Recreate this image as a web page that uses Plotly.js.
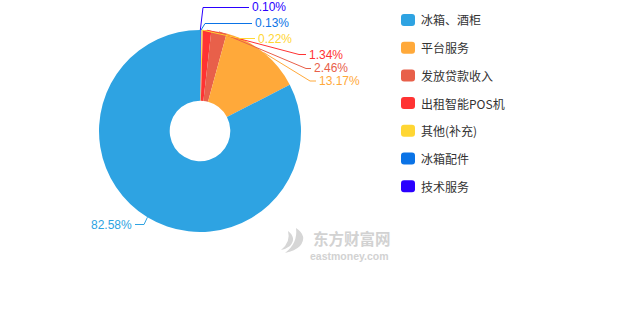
<!DOCTYPE html>
<html>
<head>
<meta charset="utf-8">
<script src="https://cdn.plot.ly/plotly-3.0.1.min.js"></script>
<style>html,body{margin:0;padding:0;background:#fff;}#chart{width:630px;height:330px;}</style>
</head>
<body>
<div id="chart"></div>
<script>
// ---- data ----
const categories = ['冰箱、酒柜', '平台服务', '发放贷款收入', '出租智能POS机', '其他(补充)', '冰箱配件', '技术服务'];
const shares = [82.58, 13.17, 2.46, 1.34, 0.22, 0.13, 0.10];
const sliceColors = ['#2ea3e2', '#ffa93a', '#e8604a', '#ff3333', '#ffd633', '#0a73e6', '#2a00ff'];

// ---- layout constants (pixels) ----
const W = 630, H = 330;
const CX = 200, CY = 131, R = 101;
// label placement per slice: [text x, text y, bend x, side]
const labelPlacement = [
  [133, 224.5, 144, -1],
  [318, 81, 310, 1],
  [313, 68.5, 306, 1],
  [308, 54.5, 299, 1],
  [257, 38.5, 240, 1],
  [254, 23.5, 205, 1],
  [251, 7.5, 203, 1]
];
const legendX = 401, legendTextX = 420, legendTop = 20, legendStep = 27.7;

const px = x => x / W;
const py = y => 1 - y / H;

const shapes = [];
const annotations = [];

// leader lines + labels, start point from each slice's mid angle
// slices run clockwise from 12 o'clock in reverse legend order
const total = shares.reduce((a, b) => a + b, 0);
let cum = 0;
shares.forEach((v, i) => {
  const mid = (cum + v / 2) / total * 2 * Math.PI; // counterclockwise from top
  cum += v;
  const x0 = CX - R * Math.sin(mid);
  const y0 = CY - R * Math.cos(mid);
  const [tx, ty, bx, side] = labelPlacement[i];
  const ex = tx - side * 2;
  shapes.push({
    type: 'path', xref: 'paper', yref: 'paper', layer: 'above',
    path: `M${px(x0)},${py(y0)} L${px(bx)},${py(ty)} L${px(ex)},${py(ty)}`,
    line: {color: sliceColors[i], width: 1}
  });
  annotations.push({
    xref: 'paper', yref: 'paper', x: px(tx), y: py(ty),
    xanchor: side > 0 ? 'left' : 'right', yanchor: 'middle',
    text: v.toFixed(2) + '%', showarrow: false, borderpad: 0,
    font: {family: 'Liberation Sans, Arial, sans-serif', size: 12, color: sliceColors[i]}
  });
});

// custom legend
function roundRect(x, y, w, h, r) {
  return `M${px(x + r)},${py(y)} L${px(x + w - r)},${py(y)} Q${px(x + w)},${py(y)} ${px(x + w)},${py(y + r)} ` +
         `L${px(x + w)},${py(y + h - r)} Q${px(x + w)},${py(y + h)} ${px(x + w - r)},${py(y + h)} ` +
         `L${px(x + r)},${py(y + h)} Q${px(x)},${py(y + h)} ${px(x)},${py(y + h - r)} ` +
         `L${px(x)},${py(y + r)} Q${px(x)},${py(y)} ${px(x + r)},${py(y)} Z`;
}
categories.forEach((c, i) => {
  const yc = legendTop + i * legendStep;
  shapes.push({
    type: 'path', xref: 'paper', yref: 'paper',
    path: roundRect(legendX, yc - 6, 14, 12, 3),
    fillcolor: sliceColors[i], line: {width: 0}
  });
  annotations.push({
    xref: 'paper', yref: 'paper', x: px(legendTextX), y: py(yc),
    xanchor: 'left', yanchor: 'middle', text: c, showarrow: false, borderpad: 0,
    font: {family: '"Noto Sans CJK SC", sans-serif', size: 12, color: '#333'}
  });
});

// watermark
shapes.push({
  type: 'path', xref: 'paper', yref: 'paper', layer: 'above',
  path: `M${px(296)},${py(228)} Q${px(308)},${py(236)} ${px(300)},${py(246)} Q${px(295)},${py(251)} ${px(285)},${py(253)} ` +
        `Q${px(298)},${py(243)} ${px(296)},${py(228)} Z`,
  fillcolor: '#d6d6d6', line: {width: 0}
});
shapes.push({
  type: 'path', xref: 'paper', yref: 'paper', layer: 'above',
  path: `M${px(288)},${py(231)} Q${px(297)},${py(238)} ${px(290)},${py(246)} Q${px(286)},${py(249)} ${px(281)},${py(250)} ` +
        `Q${px(291)},${py(242)} ${px(288)},${py(231)} Z`,
  fillcolor: '#d6d6d6', line: {width: 0}
});
annotations.push({
  xref: 'paper', yref: 'paper', x: px(312), y: py(238), xanchor: 'left', yanchor: 'middle',
  text: '<b>东方财富网</b>', showarrow: false, borderpad: 0,
  font: {family: '"Noto Sans CJK SC", sans-serif', size: 15.5, color: '#d2d2d2'}
});
annotations.push({
  xref: 'paper', yref: 'paper', x: px(309), y: py(255.5), xanchor: 'left', yanchor: 'middle',
  text: '<b>eastmoney.com</b>', showarrow: false, borderpad: 0,
  font: {family: 'Liberation Sans, Arial, sans-serif', size: 10.5, color: '#d2d2d2'}
});

const trace = {
  type: 'pie',
  labels: categories.slice().reverse(),
  values: shares.slice().reverse(),
  sort: false,
  direction: 'clockwise',
  rotation: 0,
  hole: 0.3,
  textinfo: 'none',
  hoverinfo: 'label+percent',
  showlegend: false,
  marker: {colors: sliceColors.slice().reverse(), line: {width: 0}},
  domain: {x: [px(CX - R), px(CX + R)], y: [py(CY + R), py(CY - R)]}
};

const layout = {
  width: W, height: H,
  margin: {l: 0, r: 0, t: 0, b: 0},
  paper_bgcolor: '#fff', plot_bgcolor: '#fff',
  showlegend: false,
  shapes: shapes,
  annotations: annotations
};

Plotly.newPlot('chart', [trace], layout, {displayModeBar: false, staticPlot: true});
</script>
</body>
</html>
